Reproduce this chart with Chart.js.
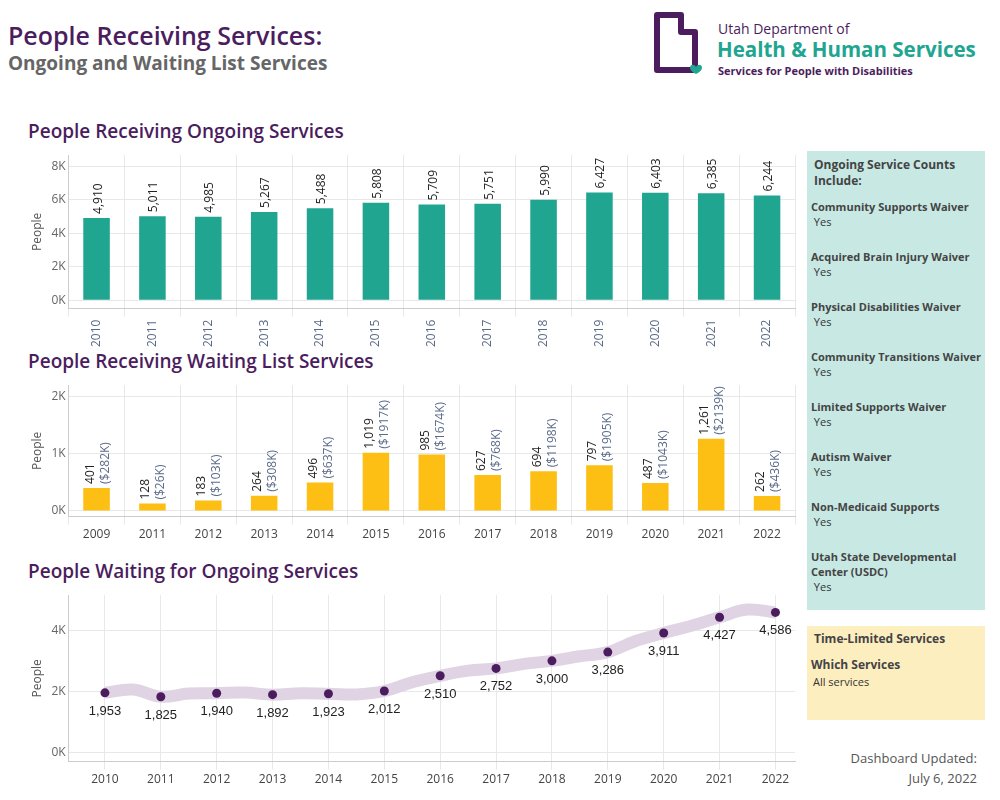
<!DOCTYPE html>
<html><head><meta charset="utf-8">
<script src="https://cdn.jsdelivr.net/npm/chart.js@4"></script>
<style>
body{margin:0;width:1000px;height:800px;background:#fff;font-family:"Open Sans",sans-serif;position:relative;overflow:hidden}
.abs{position:absolute}
h1{position:absolute;margin:0;left:8px;top:18px;font-size:25px;font-weight:600;color:#4b1d5e}
h2{position:absolute;margin:0;left:8px;top:50px;font-size:19px;font-weight:700;color:#666}
.ct{position:absolute;left:28px;font-size:19px;font-weight:600;color:#4b1d5e;margin:0}
.side{position:absolute;left:807px;width:178px;background:#c8e8e3;top:151px;height:459px;color:#333;font-size:11px}
.side b{display:block;font-size:11px;color:#444}
.it{position:absolute;left:4px}
</style></head><body>
<h1>People Receiving Services:</h1>
<h2>Ongoing and Waiting List Services</h2>
<svg class="abs" style="left:654px;top:12px" width="50" height="64" viewBox="0 0 50 64">
<path d="M3 3 H27 V20 H41 V58 H3 Z" fill="none" stroke="#4b1d5e" stroke-width="6" stroke-linejoin="round"/>
<path d="M46 56 c-1.5-3 -6-3 -6 1 c0 3 6 6 6 6 c0 0 6-3 6-6 c0-4-4.5-4-6-1z" fill="#20a591" transform="translate(-4,-1)"/>
</svg>
<div class="abs" style="left:718px;top:20px;font-size:14px;line-height:18px;color:#4b1d5e">Utah Department of</div>
<div class="abs" style="left:717px;top:37px;font-size:20.5px;line-height:24px;font-weight:700;color:#20a591">Health &amp; Human Services</div>
<div class="abs" style="left:718px;top:63px;font-size:11px;font-weight:700;color:#4b1d5e">Services for People with Disabilities</div>

<div class="ct" style="top:118px">People Receiving Ongoing Services</div>
<div class="ct" style="top:348px">People Receiving Waiting List Services</div>
<div class="ct" style="top:558px">People Waiting for Ongoing Services</div>

<div class="abs" style="left:26px;top:145px;width:774px;height:205px"><canvas id="c1"></canvas></div>
<div class="abs" style="left:26px;top:375px;width:774px;height:170px"><canvas id="c2"></canvas></div>
<div class="abs" style="left:26px;top:585px;width:774px;height:205px"><canvas id="c3"></canvas></div>

<div class="side">
<div class="it" style="top:6px;left:7px;font-size:12px;font-weight:700;color:#444;line-height:16px">Ongoing Service Counts<br>Include:</div>
<div class="it" style="top:48px"><b>Community Supports Waiver</b>&nbsp;Yes</div>
<div class="it" style="top:98px"><b>Acquired Brain Injury Waiver</b>&nbsp;Yes</div>
<div class="it" style="top:148px"><b>Physical Disabilities Waiver</b>&nbsp;Yes</div>
<div class="it" style="top:198px"><b>Community Transitions Waiver</b>&nbsp;Yes</div>
<div class="it" style="top:248px"><b>Limited Supports Waiver</b>&nbsp;Yes</div>
<div class="it" style="top:298px"><b>Autism Waiver</b>&nbsp;Yes</div>
<div class="it" style="top:348px"><b>Non-Medicaid Supports</b>&nbsp;Yes</div>
<div class="it" style="top:398px"><b>Utah State Developmental<br>Center (USDC)</b>&nbsp;Yes</div>
</div>
<div class="abs" style="left:807px;top:626px;width:178px;height:94px;background:#fdeec0;font-size:11px;color:#333">
<div class="it" style="top:4px;left:7px;font-size:12px;font-weight:700;color:#444">Time-Limited Services</div>
<div class="it" style="top:30px;font-size:12px;font-weight:700;color:#444">Which Services</div>
<div class="it" style="top:48px;left:6px">All services</div>
</div>
<div class="abs" style="left:820px;top:748px;width:157px;text-align:right;font-size:13px;color:#555;line-height:20px">Dashboard Updated:<br>July 6, 2022</div>

<script>
const ongoingYears=["2010","2011","2012","2013","2014","2015","2016","2017","2018","2019","2020","2021","2022"];
const ongoingPeople=[4910,5011,4985,5267,5488,5808,5709,5751,5990,6427,6403,6385,6244];
const waitYears=["2009","2011","2012","2013","2014","2015","2016","2017","2018","2019","2020","2021","2022"];
const waitPeople=[401,128,183,264,496,1019,985,627,694,797,487,1261,262];
const waitCostK=[282,26,103,308,637,1917,1674,768,1198,1905,1043,2139,436];
const waitingX=[2010,2010.5,2011,2011.5,2012,2012.5,2013,2013.5,2014,2014.5,2015,2015.5,2016,2016.5,2017,2017.5,2018,2018.5,2019,2019.5,2020,2020.5,2021,2021.5,2022];
const waitingY=[1953,2060,1825,1930,1940,1960,1892,1940,1923,1900,2012,2300,2510,2680,2752,2900,3000,3150,3286,3650,3911,4150,4427,4680,4586];
const waitingLabelYears=[2010,2011,2012,2013,2014,2015,2016,2017,2018,2019,2020,2021,2022];

const fmt=v=>v.toLocaleString('en-US');
const F="'Open Sans', sans-serif";
const gridC='#e8e8e8';
function yAxis(min,max,step){return{min,max,afterBuildTicks:a=>{a.ticks=[];for(let v=0;v<=max;v+=step)a.ticks.push({value:v});},
 ticks:{callback:v=>(v/1000)+'K',color:'#666',font:{family:F,size:12}},grid:{color:gridC,drawTicks:false},border:{color:'#ccc'},
 title:{display:true,text:'People',color:'#555',font:{family:F,size:12}}};}
const common={responsive:true,maintainAspectRatio:false,animation:false,plugins:{legend:{display:false},tooltip:{enabled:false}}};

new Chart(c1,{type:'bar',data:{labels:ongoingYears,datasets:[{data:ongoingPeople,backgroundColor:'#20a591',barPercentage:0.95,categoryPercentage:0.5}]},
 options:{...common,layout:{padding:{right:5}},scales:{y:{...yAxis(-500,8650,2000)},
 x:{ticks:{minRotation:90,maxRotation:90,color:'#5a6a86',font:{family:F,size:12}},grid:{color:gridC,offset:true},border:{color:'#ccc'}}}},
 plugins:[{afterDatasetsDraw(ch){const c=ch.ctx;ch.getDatasetMeta(0).data.forEach((b,i)=>{c.save();c.translate(b.x+5,b.y-4);c.rotate(-Math.PI/2);c.font='12px '+F;c.fillStyle='#222';c.textAlign='left';c.fillText(fmt(ongoingPeople[i]),0,0);c.restore();});}}]});

new Chart(c2,{type:'bar',data:{labels:waitYears,datasets:[{data:waitPeople,backgroundColor:'#fdbf14',barPercentage:0.95,categoryPercentage:0.5}]},
 options:{...common,layout:{padding:{right:5}},scales:{y:{...yAxis(-100,2200,1000)},
 x:{ticks:{color:'#444',font:{family:F,size:12}},grid:{color:gridC,offset:true},border:{color:'#ccc'}}}},
 plugins:[{afterDatasetsDraw(ch){const c=ch.ctx;ch.getDatasetMeta(0).data.forEach((b,i)=>{c.save();c.translate(b.x,b.y-4);c.rotate(-Math.PI/2);c.font='12px '+F;c.textAlign='left';c.fillStyle='#222';c.fillText(fmt(waitPeople[i]),0,-3);c.fillStyle='#5b6b8a';c.fillText('($'+waitCostK[i]+'K)',0,12);c.restore();});}}]});

new Chart(c3,{type:'line',data:{datasets:[
 {data:waitingX.map((x,i)=>({x,y:waitingY[i]})),borderColor:'#e0d3e4',borderWidth:12,tension:0.4,pointRadius:0,order:2},
 {data:waitingLabelYears.map(x=>({x,y:waitingY[waitingX.indexOf(x)]})),showLine:false,pointRadius:4.5,pointBackgroundColor:'#4b1d5e',pointBorderWidth:0,order:1}]},
 options:{...common,layout:{padding:{right:5}},scales:{y:{...yAxis(-300,5150,2000)},
 x:{type:'linear',min:2009.35,max:2022.35,afterBuildTicks:a=>{a.ticks=waitingLabelYears.map(v=>({value:v}));},ticks:{callback:v=>String(v),color:'#444',font:{family:F,size:12}},grid:{color:gridC},border:{color:'#ccc'}}}},
 plugins:[{afterDatasetsDraw(ch){const c=ch.ctx;c.font='13px Arial';c.fillStyle='#222';c.textAlign='center';ch.getDatasetMeta(1).data.forEach((p,i)=>{c.fillText(fmt(waitingY[waitingX.indexOf(waitingLabelYears[i])]),p.x,p.y+22);});}}]});
</script></body></html>
